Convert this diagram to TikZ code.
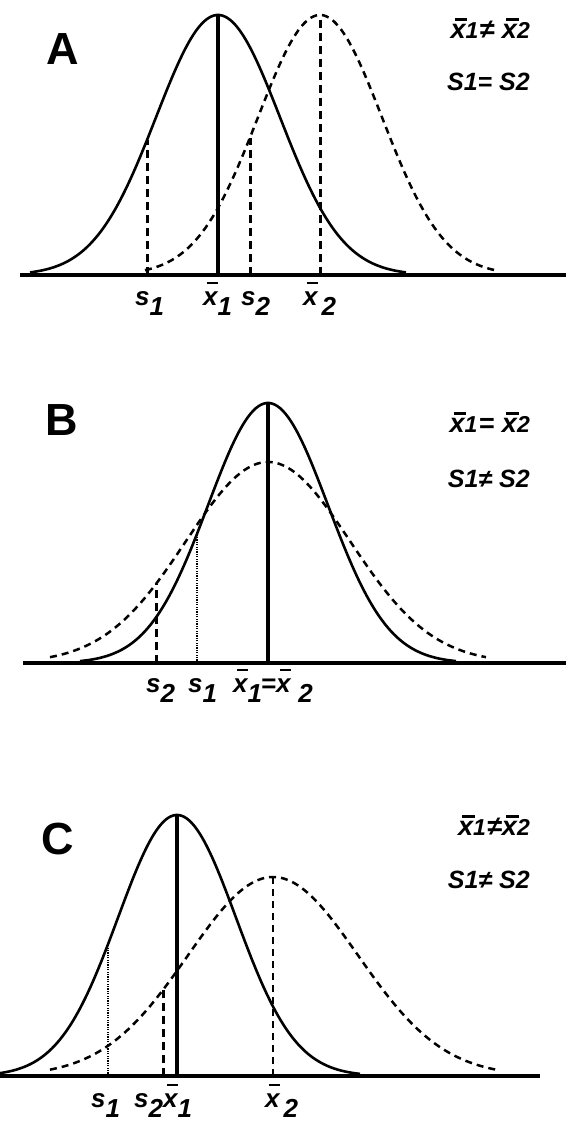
\documentclass[tikz,border=0pt]{standalone}
\usepackage{fontspec}
\setmainfont{Liberation Sans}
\newcommand{\xb}{\rlap{\kern0.16em\rule[0.8em]{0.42em}{0.1em}}x}
\newcommand{\xbr}{\rlap{\kern0.16em\rule[0.64em]{0.46em}{0.1em}}x}
\newcommand{\lsub}[1]{\raisebox{-0.4em}{#1}}
\newcommand{\rd}[1]{{\fontsize{23bp}{26bp}\selectfont #1}}
\begin{document}
\begin{tikzpicture}[x=1bp,y=-1bp,
  declare function={g(\x,\m,\s,\h,\b)=\b-\h*exp(-0.5*((\x-\m)/\s)^2);},
  axis/.style={line width=3.4bp},
  curve/.style={line width=2.6bp},
  dcurve/.style={line width=2.5bp, dash pattern=on 7bp off 5bp},
  meanline/.style={line width=3.4bp},
  sdash/.style={line width=3bp, dash pattern=on 8bp off 5bp},
  sdot/.style={line width=1.5bp, dash pattern=on 1.2bp off 1.2bp},
  tdash/.style={line width=1.8bp, dash pattern=on 7bp off 5bp},
  lab/.style={font=\fontsize{26bp}{30bp}\selectfont\bfseries\itshape, inner sep=0pt, anchor=base west},
  rtxt/.style={font=\fontsize{25bp}{29bp}\selectfont\bfseries\itshape, inner sep=0pt, anchor=base east},
  rtxx/.style={font=\fontsize{27bp}{30bp}\selectfont\bfseries\itshape, inner sep=0pt, anchor=base east},
  big/.style={font=\fontsize{45bp}{50bp}\selectfont\bfseries, inner sep=0pt}
]
\useasboundingbox (0,0) rectangle (566,1127);

% ---------------- Panel A ----------------
\node[big] (Alet) at (63,49) {A};
\node[rtxx] (Ar1) at (530,38) {\xbr\rd{1}\kern0.05em≠ \xbr\rd{2}};
\node[rtxt] (Ar2) at (530,90) {S1= S2};
\draw[curve] plot[domain=30:406, samples=140, smooth] (\x,{g(\x,218,62,260,275)});
\draw[dcurve] plot[domain=145:495, samples=140, smooth] (\x,{g(\x,320,62,260,275)});
\coordinate (As1b) at (147,275);
\coordinate (As1t) at (147,{g(147,218,62,260,275)});
\coordinate (Am1b) at (218,275);
\coordinate (Am1t) at (218,15);
\coordinate (As2b) at (250,275);
\coordinate (As2t) at (250,{g(250,320,62,260,275)});
\coordinate (Am2b) at (320,275);
\coordinate (Am2t) at (320,15);
\draw[sdash] (As1b) -- (As1t);
\draw[meanline] (Am1b) -- (Am1t);
\draw[sdash] (As2b) -- (As2t);
\draw[sdash] (Am2b) -- (Am2t);
\coordinate (Aax1) at (20,275);
\coordinate (Aax2) at (566,275);
\draw[axis] (Aax1) -- (Aax2);
\node[lab] (Als1) at (135,305) {s\lsub{1}};
\node[lab] (Alm1) at (203,305) {\xb\lsub{1}};
\node[lab] (Als2) at (241,305) {s\lsub{2}};
\node[lab] (Alm2) at (303,305) {\xb\kern0.15em\lsub{2}};

% ---------------- Panel B ----------------
\node[big] (Blet) at (62,420) {B};
\node[rtxx] (Br1) at (530,432) {\xbr\rd{1}\kern0.05em= \xbr\rd{2}};
\node[rtxt] (Br2) at (530,487) {S1≠ S2};
\draw[curve] plot[domain=80:456, samples=140, smooth] (\x,{g(\x,268,60,260,663)});
\draw[dcurve] plot[domain=50:486, samples=160, smooth] (\x,{g(\x,268,82,201,663)});
\coordinate (Bs2b) at (156,663);
\coordinate (Bs2t) at (156,{g(156,268,82,201,663)});
\coordinate (Bs1b) at (197,663);
\coordinate (Bs1t) at (197,{g(197,268,60,260,663)});
\coordinate (Bmb) at (268,663);
\coordinate (Bmt) at (268,403);
\draw[sdash] (Bs2b) -- (Bs2t);
\draw[sdot] (Bs1b) -- (Bs1t);
\draw[meanline] (Bmb) -- (Bmt);
\coordinate (Bax1) at (23,663);
\coordinate (Bax2) at (566,663);
\draw[axis] (Bax1) -- (Bax2);
\node[lab] (Bls2) at (146,692) {s\lsub{2}};
\node[lab] (Bls1) at (188,692) {s\lsub{1}};
\node[lab] (Blm) at (233,692) {\xb\lsub{1}\kern-0.05em=\xb\kern0.3em\lsub{2}};

% ---------------- Panel C ----------------
\node[big] (Clet) at (58,839) {C};
\node[rtxx] (Cr1) at (530,835) {\xbr\rd{1}\kern0.05em≠\xbr\rd{2}};
\node[rtxt] (Cr2) at (530,888) {S1≠ S2};
\draw[curve] plot[domain=0:360, samples=140, smooth] (\x,{g(\x,177,59,261,1076)});
\draw[dcurve] plot[domain=50:498, samples=160, smooth] (\x,{g(\x,273,85,199,1076)});
\coordinate (Cs1b) at (108,1076);
\coordinate (Cs1t) at (108,{g(108,177,59,261,1076)});
\coordinate (Cs2b) at (163,1076);
\coordinate (Cs2t) at (163,{g(163,273,85,199,1076)});
\coordinate (Cm1b) at (177,1076);
\coordinate (Cm1t) at (177,815);
\coordinate (Cm2b) at (273,1076);
\coordinate (Cm2t) at (273,877);
\draw[sdot] (Cs1b) -- (Cs1t);
\draw[sdash] (Cs2b) -- (Cs2t);
\draw[meanline] (Cm1b) -- (Cm1t);
\draw[tdash] (Cm2b) -- (Cm2t);
\coordinate (Cax1) at (0,1076);
\coordinate (Cax2) at (540,1076);
\draw[axis] (Cax1) -- (Cax2);
\node[lab] (Cls1) at (91,1107) {s\lsub{1}};
\node[lab] (Cls2) at (134,1107) {s\lsub{2}};
\node[lab] (Clm1) at (163,1107) {\xb\lsub{1}};
\node[lab] (Clm2) at (265,1107) {\xb\kern0.15em\lsub{2}};
\end{tikzpicture}
\end{document}
